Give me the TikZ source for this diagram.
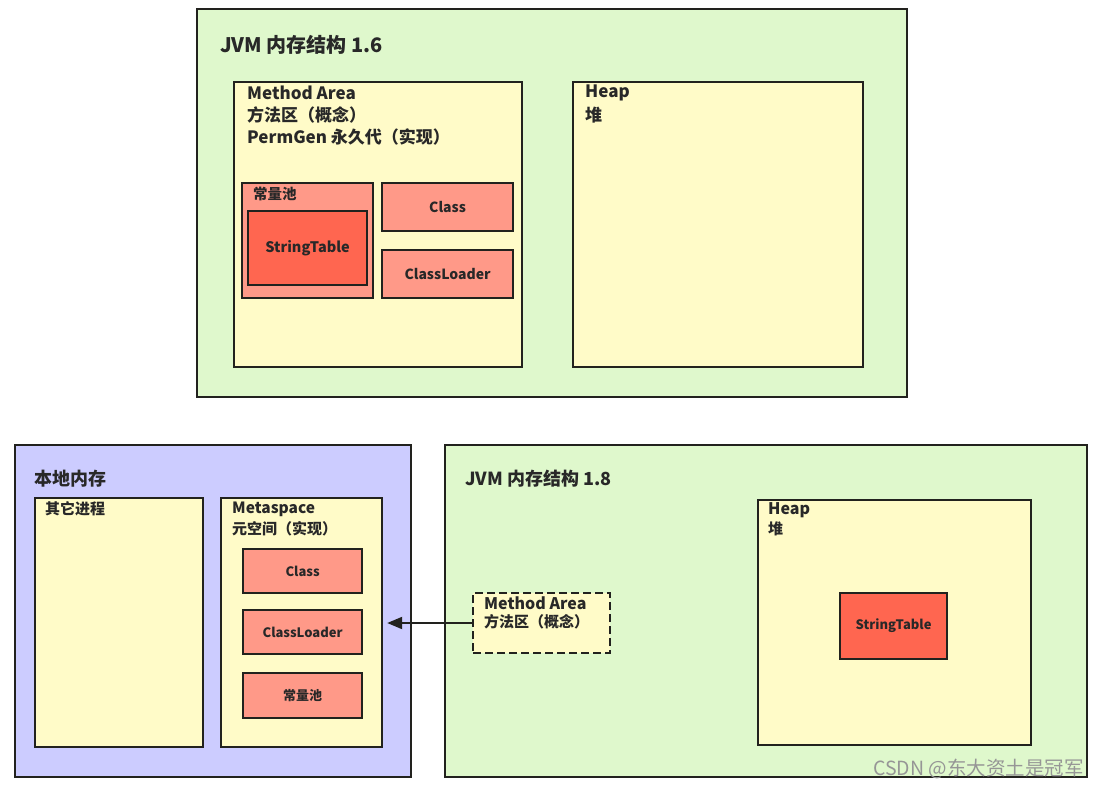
\documentclass[tikz,border=0pt]{standalone}
\usepackage{fontspec}
\setmainfont{Noto Sans CJK SC}
\usetikzlibrary{arrows.meta,calc}
\definecolor{jvmgreen}{RGB}{223,248,204}
\definecolor{areayellow}{RGB}{255,251,200}
\definecolor{salmon}{RGB}{255,153,136}
\definecolor{tomato}{RGB}{255,102,80}
\definecolor{native}{RGB}{204,204,255}
\definecolor{edge}{RGB}{34,34,30}
\definecolor{txt}{RGB}{40,40,40}
\definecolor{wm}{RGB}{150,150,150}
\newcommand{\fs}[1]{\bfseries\fontsize{#1}{#1}\selectfont}
\tikzset{
  box/.style={draw=edge, line width=2.2pt, anchor=north west, inner sep=0pt},
  dashbox/.style={box, dashed, dash pattern=on 8pt off 4pt},
  lbl/.style={anchor=west, inner sep=0pt, text=txt, font=\fs{17}},
  inl/.style={inner sep=0pt, text=txt, font=\fs{13}},
}
\newcommand{\bx}[7]{% style, fill, name, x1, y1, x2, y2
  \node[#1, fill=#2, minimum width={(#6-#4)*1pt}, minimum height={(#7-#5)*1pt}] (#3) at (#4,#5) {};}
\begin{document}
\begin{tikzpicture}[x=1pt,y=-1pt]
\useasboundingbox[fill=white] (0,0) rectangle (1099,789);
% ---------- JVM 1.6 ----------
\bx{box}{jvmgreen}{jvm6}{196}{8}{906}{396}
\node[lbl, font=\fs{20}] (t6) at (220,45) {JVM 内存结构 1.6};
\bx{box}{areayellow}{ma6}{233}{81}{521}{366}
\node[lbl] (ma6a) at (247,93) {Method Area};
\node[lbl] (ma6b) at (247,115) {方法区（概念）};
\node[lbl] (ma6c) at (247,137) {PermGen 永久代（实现）};
\bx{box}{areayellow}{heap6}{572}{81}{862}{366}
\node[lbl] (heap6a) at (585,93) {Heap};
\node[lbl] (heap6b) at (585,115) {堆};
\bx{box}{salmon}{pool6}{241}{182}{372}{297}
\node[lbl, font=\fs{14.5}] (pool6l) at (253,194) {常量池};
\bx{box}{tomato}{st6}{247}{210}{366}{284}
\node[inl, font=\fs{14.5}] at (st6.center) {StringTable};
\bx{box}{salmon}{cls6}{381}{182}{512}{230}
\node[inl, font=\fs{14}] at (cls6.center) {Class};
\bx{box}{salmon}{cl6}{381}{249}{512}{297}
\node[inl, font=\fs{14}] at (cl6.center) {ClassLoader};
% ---------- native memory ----------
\bx{box}{native}{nat}{14}{444}{410}{776}
\node[lbl, font=\fs{18}] (natl) at (34,479) {本地内存};
\bx{box}{areayellow}{other}{34}{497}{202}{746}
\node[lbl, font=\fs{15}] (otherl) at (45,509) {其它进程};
\bx{box}{areayellow}{meta}{220}{497}{381}{746}
\node[lbl, font=\fs{15.5}] (metaa) at (232,509) {Metaspace};
\node[lbl, font=\fs{15}] (metab) at (232,529) {元空间（实现）};
\bx{box}{salmon}{cls8}{242}{548}{361}{592}
\node[inl] at (cls8.center) {Class};
\bx{box}{salmon}{cl8}{242}{609}{361}{653}
\node[inl] at (cl8.center) {ClassLoader};
\bx{box}{salmon}{pool8}{242}{672}{361}{717}
\node[inl] at (pool8.center) {常量池};
% ---------- JVM 1.8 ----------
\bx{box}{jvmgreen}{jvm8}{444}{444}{1086}{776}
\node[lbl, font=\fs{18}] (t8) at (465,479) {JVM 内存结构 1.8};
\bx{box}{areayellow}{heap8}{757}{499}{1030}{744}
\node[lbl, font=\fs{16}] (heap8a) at (768,510) {Heap};
\node[lbl, font=\fs{15}] (heap8b) at (768,529) {堆};
\bx{box}{tomato}{st8}{839}{592}{946}{658}
\node[inl] at (st8.center) {StringTable};
\bx{dashbox}{areayellow}{ma8}{472}{592}{609}{652}
\node[lbl, font=\fs{16}] (ma8a) at (484,603) {Method Area};
\node[lbl, font=\fs{15}] (ma8b) at (484,622) {方法区（概念）};
% arrow
\coordinate (tip) at ($(meta.east)+(4,0)$);
\draw[draw=edge, line width=2pt, -{Triangle[length=15pt,width=12pt]}] (ma8.west |- 0,623) -- (tip |- 0,623);
% watermark
\node[anchor=east, inner sep=0pt, text=wm, font=\fontsize{19.5}{20}\selectfont] (csdn) at (1084,769) {CSDN @东大资土是冠军};
\end{tikzpicture}
\end{document}
